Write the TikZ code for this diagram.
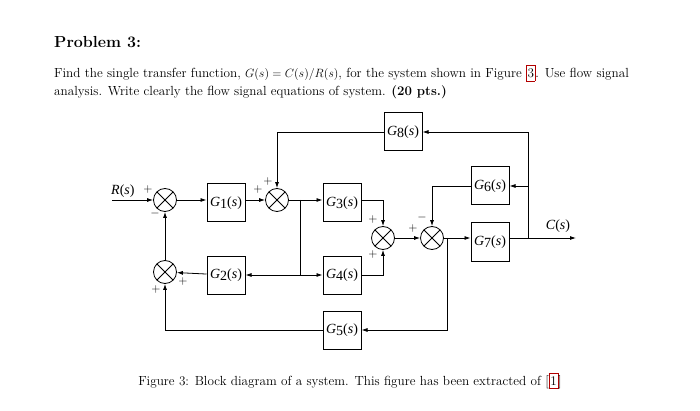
\documentclass[tikz,border=0pt]{standalone}
\usepackage{fontspec}
\newfontfamily\tms{Liberation Serif}[ItalicFont={Liberation Serif Italic}]
\usetikzlibrary{arrows.meta}
\newcommand{\gtf}[1]{{\tms\itshape G\upshape\raisebox{-2.5pt}{#1}(\itshape s\upshape)}}
\newcommand{\sgn}[1]{{\tms\itshape #1\upshape(\itshape s\upshape)}}
\begin{document}
\begin{tikzpicture}[x=1pt,y=-1pt,
  blk/.style={draw,line width=1pt,minimum width=38pt,minimum height=38pt,inner sep=0pt,font=\fontsize{14}{14}\selectfont},
  sm/.style={draw,circle,minimum size=23pt,inner sep=0pt,line width=0.8pt,
    path picture={\draw[line width=0.8pt] (path picture bounding box.north west)--(path picture bounding box.south east) (path picture bounding box.north east)--(path picture bounding box.south west);}},
  ar/.style={-{Latex[length=6pt,width=4pt]},line width=0.8pt},
  ln/.style={line width=0.8pt},
  sg/.style={font=\tms\fontsize{12}{12}\selectfont,inner sep=1pt},
  txt/.style={font=\fontsize{13.2}{15}\selectfont,anchor=west,inner sep=0pt}]
\useasboundingbox (0,0) rectangle (700,411);
\node[font=\bfseries\fontsize{16}{18}\selectfont,anchor=west,inner sep=0pt] (title) at (54,42) {Problem 3:};
\node[txt] (l1) at (54,73) {Find the single transfer function, $G(s)=C(s)/R(s)$, for the system shown in Figure {\color{red!70!black}\fbox{\color{black}\kern-2pt 3\kern-2pt}}. Use flow signal};
\node[txt] (l2) at (54,92) {analysis. Write clearly the flow signal equations of system. \textbf{(20 pts.)}};
\node[font=\fontsize{13.2}{15}\selectfont,inner sep=0pt] (cap) at (350,381) {Figure 3: Block diagram of a system. This figure has been extracted of [{\color{red!70!black}\fbox{\color{black}\kern-2pt 1\kern-2pt}}]};
% blocks
\node[blk] (g1) at (226,203) {\gtf{1}};
\node[blk] (g2) at (226,275) {\gtf{2}};
\node[blk] (g3) at (342,203) {\gtf{3}};
\node[blk] (g4) at (342,275) {\gtf{4}};
\node[blk] (g5) at (342,330) {\gtf{5}};
\node[blk] (g8) at (403,132) {\gtf{8}};
\node[blk] (g6) at (490,186) {\gtf{6}};
\node[blk] (g7) at (490,242) {\gtf{7}};
\node[sm] (s1) at (165,200) {};
\node[sm] (s2) at (277,200) {};
\node[sm] (s3) at (383,238) {};
\node[sm] (s4) at (165,272) {};
\node[sm] (s5) at (432,238) {};
\coordinate (rin) at (112,200);
\coordinate (bx) at (300,200);
\coordinate (b5) at (447,238);
\coordinate (bo) at (528,238);
\coordinate (cout) at (576,238);
\node[sg,anchor=south west,font=\fontsize{14}{14}\selectfont] (rl) at (110,199) {\sgn{R}};
\node[sg,anchor=south,font=\fontsize{14}{14}\selectfont] (cl) at (558,234) {\sgn{C}};
% connections
\draw[ar] (rin)--(s1);
\draw[ar] (s1)--(g1.west|-s1);
\draw[ar] (g1.east|-s2)--(s2);
\draw[ar] (s2)--(g3.west|-s2);
\draw[ln] (bx)--(bx|-g2);
\draw[ar] (bx|-g2)--(g2);
\draw[ar] (bx|-g4)--(g4);
\draw[ar] (g2)--(s4);
\draw[ar] (s4)--(s1);
\draw[ar] (g5)-|(s4);
\draw[ar] (g3.east|-s2)-|(s3);
\draw[ar] (g4)-|(s3);
\draw[ar] (s3)--(s5);
\draw[ar] (s5)--(g7.west|-s5);
\draw[ar] (b5)|-(g5);
\draw[ln] (g7.east|-s5)--(bo);
\draw[ar] (bo)--(cout);
\draw[ar] (bo)|-(g8);
\draw[ar] (bo|-g6)--(g6);
\draw[ar] (g6)-|(s5);
\draw[ar] (g8)-|(s2);
% signs
\node[sg] (p1) at (148,190) {$+$};
\node[sg] (m1) at (155,214) {$-$};
\node[sg] (p2) at (258,190) {$+$};
\node[sg] (p2b) at (268,182) {$+$};
\node[sg] (p3) at (373,220) {$+$};
\node[sg] (p3b) at (373,255) {$+$};
\node[sg] (p4) at (183,281) {$+$};
\node[sg] (p4b) at (156,289) {$+$};
\node[sg] (p5) at (413,229) {$+$};
\node[sg] (m5) at (422,218) {$-$};
\end{tikzpicture}
\end{document}
